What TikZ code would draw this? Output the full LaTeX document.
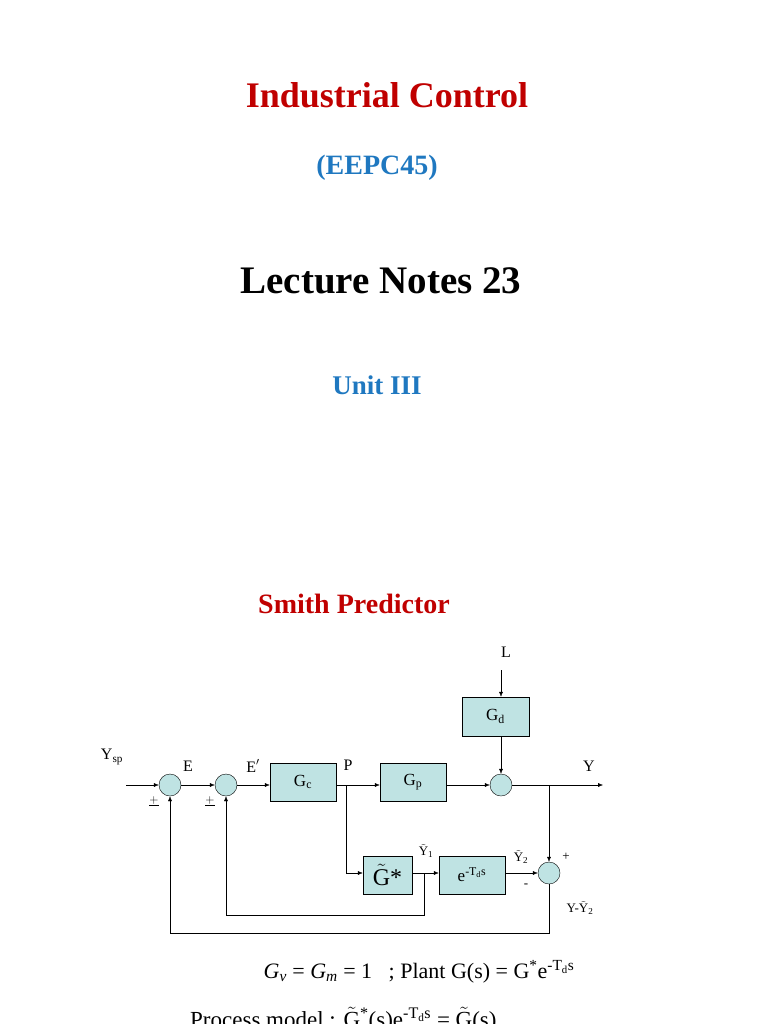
\documentclass[tikz,border=0pt]{standalone}
\usepackage{fontspec}
\setmainfont{Liberation Serif}
\usetikzlibrary{arrows.meta}
\definecolor{boxc}{HTML}{BFE3E3}
\definecolor{tred}{HTML}{C00000}
\definecolor{tblue}{HTML}{1F78C0}
\begin{document}
\begin{tikzpicture}[x=1pt,y=-1pt,
  blk/.style={draw,fill=boxc,minimum width=#1,minimum height=38pt,inner sep=0pt,font=\fontsize{17}{17}\selectfont},
  blk/.default=66pt,
  sumc/.style={draw,fill=boxc,circle,minimum size=22pt,inner sep=0pt},
  lab/.style={font=\fontsize{16}{16}\selectfont,inner sep=0pt},
  sml/.style={font=\fontsize{13}{13}\selectfont,inner sep=0pt},
  arr/.style={-{Latex[length=5pt,width=4pt]}}]
\useasboundingbox (0,0) rectangle (768,1024);
\node[font=\bfseries\fontsize{36}{36}\selectfont,text=tred] (t1) at (387,95) {Industrial Control};
\node[font=\bfseries\fontsize{28}{28}\selectfont,text=tblue] (t2) at (377,168) {(EEPC45)};
\node[font=\bfseries\fontsize{39}{39}\selectfont] (t3) at (381,281) {Lecture Notes 23};
\node[font=\bfseries\fontsize{27}{27}\selectfont,text=tblue] (t4) at (377,385) {Unit III};
\node[font=\bfseries\fontsize{28}{28}\selectfont,text=tred] (t5) at (354,604) {Smith Predictor};

\node[sumc] (s1) at (170,785) {};
\node[sumc] (s2) at (226,785) {};
\node[blk] (gc) at (303,782) {G\textsubscript{c}};
\node[blk] (gp) at (413,782) {G\textsubscript{p}};
\node[sumc] (s3) at (501,785) {};
\node[blk=67pt,minimum height=39pt] (gd) at (495.5,716.5) {G\textsubscript{d}};
\node[sumc] (s4) at (549,873) {};
\node[blk=49pt,font=\fontsize{24}{24}\selectfont] (gs) at (387.5,875) {$\tilde{\mathrm{G}}$*};
\node[blk] (ed) at (472,875) {e\textsuperscript{-T\textsubscript{d}s}};

\coordinate (in) at (126,785);
\coordinate (out) at (603,785);
\coordinate (bY) at (549,785);
\coordinate (bP) at (346,785);
\coordinate (bY1) at (424,873);
\coordinate (Lt) at (501,670);

\node[lab] (Lx) at (506,652) {L};
\draw[arr] (Lt) -- (Lt |- gd.north);
\draw[arr] (gd.south -| s3) -- (s3);
\draw[arr] (in) -- (s1);
\draw[arr] (s1) -- (s2);
\draw[arr] (s2) -- (s2 -| gc.west);
\draw[arr] (s2 -| gc.east) -- (s2 -| gp.west);
\draw[arr] (s2 -| gp.east) -- (s3);
\draw[arr] (s3) -- (out);
\draw[arr] (bY) -- (s4);
\draw[arr] (bP) |- (bP |- s4) -- (s4 -| gs.west);
\draw[arr] (s4 -| gs.east) -- (s4 -| ed.west);
\draw[arr] (s4 -| ed.east) -- (s4);
\draw[arr] (bY1) -- (424,915) -| (s2);
\draw[arr] (s4) -- (549,933) -| (s1);

\node[lab] (ysp) at (112,757) {Y\textsubscript{sp}};
\node[lab] (le) at (188,766) {E};
\node[lab] (lep) at (253,766) {E$'$};
\node[lab] (lp) at (348,765) {P};
\node[lab] (ly) at (589,766) {Y};
\node[sml] (pm1) at (154,801) {$\underline{+}$};
\node[sml] (pm2) at (210,801) {$\underline{+}$};
\node[sml] (y1) at (426,851) {$\tilde{\mathrm{Y}}$\textsubscript{1}};
\node[sml] (y2) at (521,857) {$\tilde{\mathrm{Y}}$\textsubscript{2}};
\node[sml] (pl) at (566,857) {+};
\node[sml] (mi) at (526,886) {-};
\node[sml] (ymy) at (580,908) {Y-$\tilde{\mathrm{Y}}$\textsubscript{2}};

\node[font=\fontsize{22}{22}\selectfont,inner sep=0pt] (eq1) at (419,972) {\textit{G\textsubscript{v}} = \textit{G\textsubscript{m}} = 1\ \ \ ; Plant G(s) = G\textsuperscript{*}e\textsuperscript{-T\textsubscript{d}s}};
\node[font=\fontsize{23}{23}\selectfont,inner sep=0pt,anchor=west] (eq2) at (190,1020) {Process model : $\tilde{\mathrm{G}}$\textsuperscript{*}(s)e\textsuperscript{-T\textsubscript{d}s} = $\tilde{\mathrm{G}}$(s)};
\end{tikzpicture}
\end{document}
